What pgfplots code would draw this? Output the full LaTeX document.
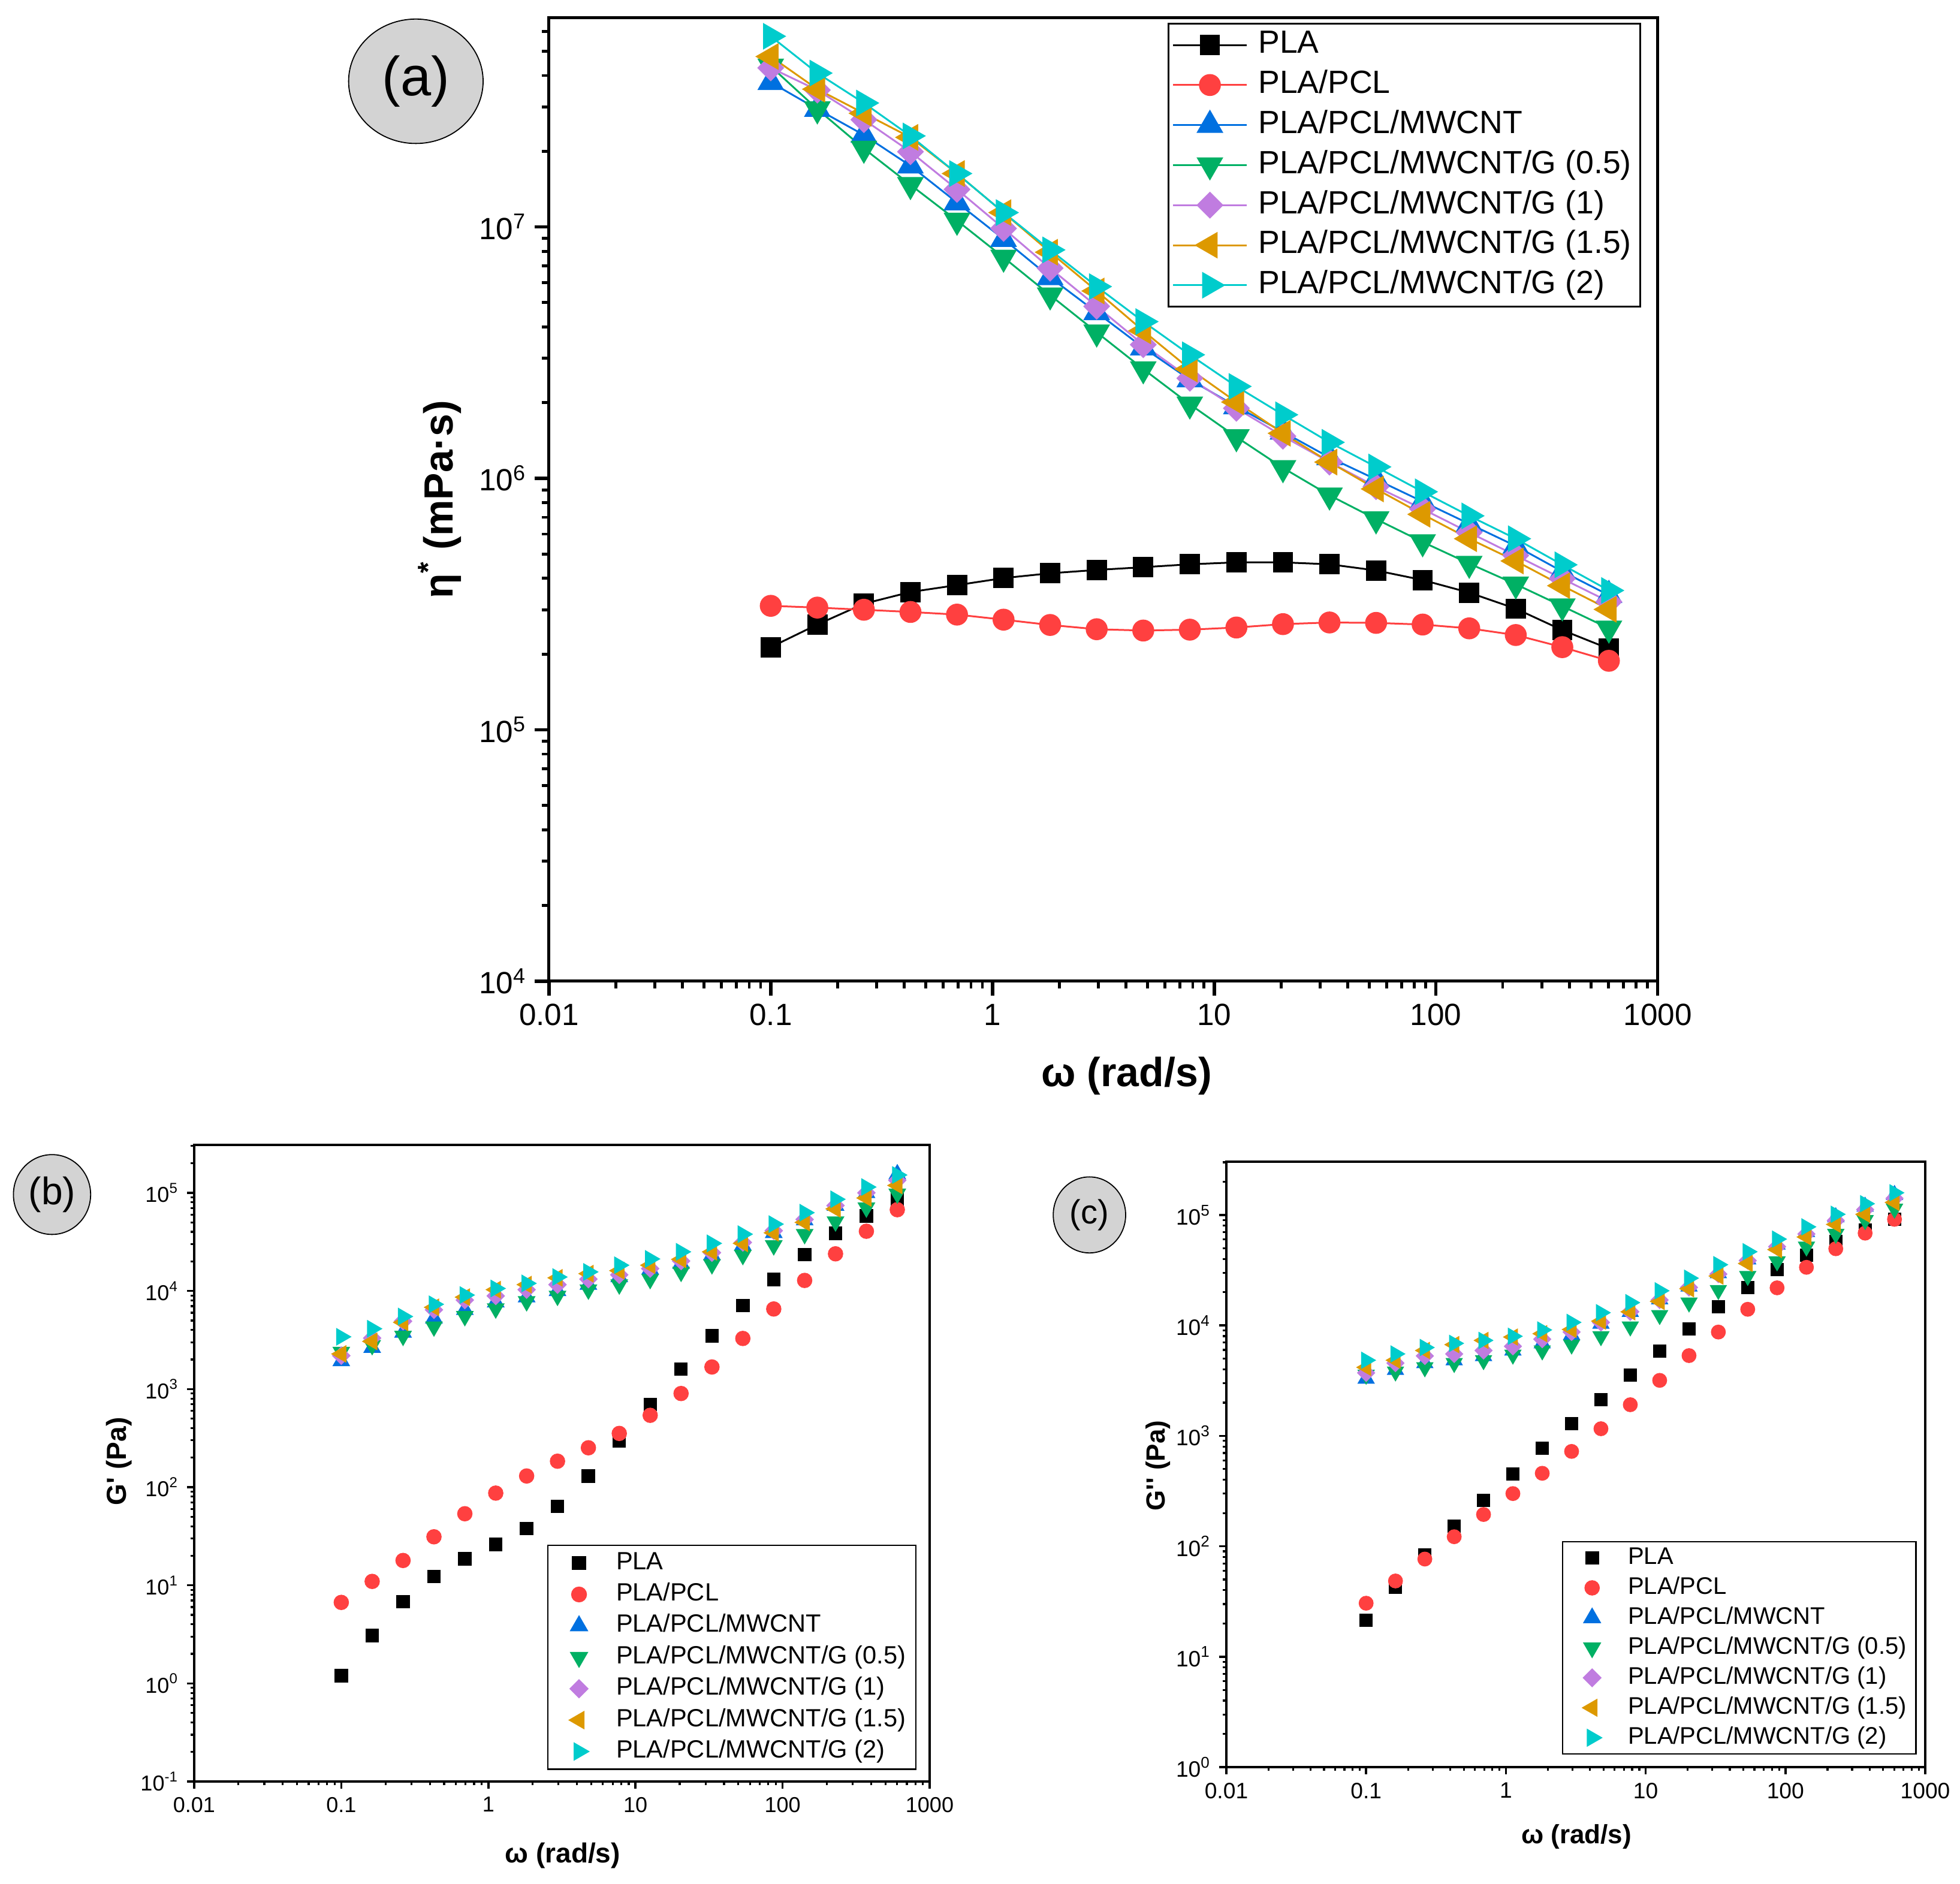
\documentclass[border=0pt]{standalone}
\usepackage{fontspec}
\setmainfont{Liberation Sans}
\usepackage{pgfplots}
\usepackage{pgfplotstable}
\pgfplotsset{compat=1.18}

\definecolor{cRed}{HTML}{FF4040}
\definecolor{cBlue}{HTML}{0070E0}
\definecolor{cGreen}{HTML}{00B064}
\definecolor{cPurple}{HTML}{C07CE0}
\definecolor{cOrange}{HTML}{DD9900}
\definecolor{cCyan}{HTML}{00CCCC}
\definecolor{cGray}{HTML}{D3D3D3}

% panel (a): complex viscosity (mPa s)
\pgfplotstableread{
w PLA PCL MW G05 G1 G15 G2
0.1 2.13e5 3.11e5 3.76e7 4.35e7 4.29e7 4.76e7 5.73e7
0.1622 2.62e5 3.06e5 2.94e7 2.94e7 3.50e7 3.53e7 4.09e7
0.2630 3.17e5 3.00e5 2.32e7 2.05e7 2.67e7 2.83e7 3.11e7
0.4266 3.53e5 2.94e5 1.75e7 1.47e7 1.99e7 2.27e7 2.30e7
0.6918 3.76e5 2.87e5 1.25e7 1.06e7 1.41e7 1.63e7 1.63e7
1.122 4.01e5 2.74e5 8.94e6 7.56e6 9.86e6 1.14e7 1.14e7
1.820 4.19e5 2.61e5 6.30e6 5.35e6 6.85e6 7.93e6 8.10e6
2.951 4.32e5 2.51e5 4.57e6 3.81e6 4.83e6 5.56e6 5.79e6
4.786 4.43e5 2.48e5 3.31e6 2.72e6 3.40e6 3.86e6 4.20e6
7.762 4.55e5 2.50e5 2.47e6 1.97e6 2.50e6 2.72e6 3.10e6
12.59 4.63e5 2.55e5 1.93e6 1.46e6 1.90e6 2.01e6 2.32e6
20.42 4.63e5 2.63e5 1.53e6 1.10e6 1.47e6 1.51e6 1.79e6
33.11 4.55e5 2.67e5 1.21e6 8.56e5 1.16e6 1.16e6 1.39e6
53.70 4.30e5 2.66e5 9.90e5 6.88e5 9.26e5 9.07e5 1.11e6
87.10 3.94e5 2.62e5 8.08e5 5.58e5 7.55e5 7.19e5 8.84e5
141.3 3.51e5 2.53e5 6.59e5 4.58e5 6.09e5 5.75e5 7.09e5
229.1 3.03e5 2.38e5 5.38e5 3.79e5 4.93e5 4.69e5 5.75e5
371.5 2.49e5 2.13e5 4.26e5 3.10e5 3.99e5 3.74e5 4.53e5
602.6 2.10e5 1.88e5 3.43e5 2.53e5 3.23e5 3.01e5 3.58e5
}\dataA

% panel (b): G' (Pa)
\pgfplotstableread{
w PLA PCL MW G05 G1 G15 G2
0.1 1.20 6.69 1930 2390 2190 2280 3410
0.1622 3.07 10.95 2640 2800 3310 3060 4120
0.2630 6.82 17.9 3770 3480 4920 4780 5490
0.4266 12.3 31.2 5270 4330 6420 6810 7310
0.6918 18.6 53.6 6420 5530 8070 8640 9080
1.122 26.1 87 7680 6610 8900 10300 10600
1.820 37.9 130 8640 7830 10300 11600 11950
2.951 64.0 184 10000 8900 11600 13600 13870
4.786 130 252 11600 10300 13200 15000 15630
7.762 296 353 13870 11600 14600 16100 18300
12.59 698 540 16600 13200 16900 18300 21200
20.42 1597 901 19000 15630 20200 21000 25060
33.11 3480 1679 23200 18650 24550 25060 30550
53.70 7080 3280 29100 23200 31200 30550 37900
87.10 13060 6550 39100 29100 41100 39100 48000
141.3 23400 12800 52600 37900 53600 50000 62800
229.1 38700 23900 74200 50900 74200 68600 86000
371.5 58000 40600 100000 70600 100000 88600 114600
602.6 86000 67300 155000 97800 134000 119000 152000
}\dataB

% panel (c): G'' (Pa)
\pgfplotstableread{
w PLA PCL MW G05 G1 G15 G2
0.1 21.3 30.5 3300 3570 3720 4170 4840
0.1622 42.5 48.5 3960 3820 4560 4840 5520
0.2630 83.5 76.6 4560 4170 5290 5930 6310
0.4266 152 122 4840 4560 5520 6700 6880
0.6918 261 194 5290 4840 5930 7320 7320
1.122 450 300 5930 5430 6470 7850 7980
1.820 768 458 6880 5930 7510 8420 9100
2.951 1288 723 8200 6700 8710 9190 10660
4.786 2140 1160 10380 7980 10660 10940 13050
7.762 3530 1914 13280 9770 13280 13280 16100
12.59 5820 3180 17270 12400 17000 16500 20600
20.42 9350 5330 22500 16100 22100 21500 26800
33.11 14750 8710 29700 20900 29200 28000 35500
53.70 22100 14000 39700 28000 38700 36400 46500
87.10 31900 21900 54000 38000 51700 48600 60500
141.3 43400 33600 70300 51700 67300 63200 78100
229.1 57900 49500 95500 67300 89100 82200 101500
371.5 73400 68500 119000 89800 112000 101500 126500
602.6 91400 91400 152000 113800 141700 130000 159000
}\dataC

\begin{document}
\begin{tikzpicture}
\useasboundingbox (0pt,0pt) rectangle (817.5pt,785.5pt);
\fill[white] (0pt,0pt) rectangle (817.5pt,785.5pt);

% ---------------- (a) ----------------
\begin{axis}[
  scale only axis, anchor=south west,
  xmode=log, ymode=log, xmin=0.01, xmax=1000,
  tick align=outside, xtick pos=bottom, ytick pos=left,
  xtick={0.01,0.1,1,10,100,1000},
  xticklabels={0.01,0.1,1,10,100,1000},
  minor xtick={0.02,0.03,0.04,0.05,0.06,0.07,0.08,0.09,0.2,0.3,0.4,0.5,0.6,0.7,0.8,0.9,2,3,4,5,6,7,8,9,20,30,40,50,60,70,80,90,200,300,400,500,600,700,800,900},
  legend cell align=left,
  at={(229pt,376.3pt)}, width=462.4pt, height=401.85pt,
  ymin=1e4, ymax=6.8e7,
  ytick={1e4,1e5,1e6,1e7},
  yticklabels={10\textsuperscript{4},10\textsuperscript{5},10\textsuperscript{6},10\textsuperscript{7}},
  minor ytick={2e4,3e4,4e4,5e4,6e4,7e4,8e4,9e4,2e5,3e5,4e5,5e5,6e5,7e5,8e5,9e5,2e6,3e6,4e6,5e6,6e6,7e6,8e6,9e6,2e7,3e7,4e7,5e7,6e7},
  axis line style={line width=1.25pt},
  major tick length=6pt, minor tick length=3pt,
  major tick style={black, line width=1.4pt}, minor tick style={black, line width=1.2pt},
  ticklabel style={font=\fontsize{12.8}{15}\selectfont},
  xlabel={\textbf{ω (rad/s)}},
  ylabel={\textbf{η\textsuperscript{*} (mPa·s)}},
  xlabel style={at={(axis description cs:0.521,-0.0985)}, anchor=center, font=\fontsize{17}{20}\selectfont},
  ylabel style={at={(axis description cs:-0.0984,0.50)}, anchor=center, font=\fontsize{17}{20}\selectfont},
  legend style={at={(0.5581,0.9946)}, anchor=north west, draw=black, line width=0.8pt,
    font=\fontsize{13.4}{15}\selectfont, inner xsep=1.4pt, inner ysep=0.5pt,
    row sep=0pt, column sep=2.2pt,
    nodes={inner xsep=2.2pt, inner ysep=1.9pt, text height=9.9pt, text depth=3pt}},
  legend image code/.code={\draw[mark repeat=2, mark phase=2, #1] plot coordinates {(0pt,0pt) (15.4pt,0pt) (30.8pt,0pt)};},
]
\addplot[black, line width=0.75pt, mark=square*, mark size=3.85pt] table[x=w,y=PLA]{\dataA};
\addlegendentry{PLA}
\addplot[cRed, line width=0.75pt, mark=*, mark size=4.2pt] table[x=w,y=PCL]{\dataA};
\addlegendentry{PLA/PCL}
\addplot[cBlue, line width=0.75pt, mark=triangle*, mark size=5.7pt] table[x=w,y=MW]{\dataA};
\addlegendentry{PLA/PCL/MWCNT}
\addplot[cGreen, line width=0.75pt, mark=triangle*, mark size=5.7pt, mark options={rotate=180}] table[x=w,y=G05]{\dataA};
\addlegendentry{PLA/PCL/MWCNT/G (0.5)}
\addplot[cPurple, line width=0.75pt, mark=square*, mark size=3.6pt, mark options={rotate=45}] table[x=w,y=G1]{\dataA};
\addlegendentry{PLA/PCL/MWCNT/G (1)}
\addplot[cOrange, line width=0.75pt, mark=triangle*, mark size=5.7pt, mark options={rotate=90}] table[x=w,y=G15]{\dataA};
\addlegendentry{PLA/PCL/MWCNT/G (1.5)}
\addplot[cCyan, line width=0.75pt, mark=triangle*, mark size=5.7pt, mark options={rotate=-90}] table[x=w,y=G2]{\dataA};
\addlegendentry{PLA/PCL/MWCNT/G (2)}
\end{axis}

% ---------------- (b) ----------------
\begin{axis}[
  scale only axis, anchor=south west,
  xmode=log, ymode=log, xmin=0.01, xmax=1000,
  tick align=outside, xtick pos=bottom, ytick pos=left,
  xtick={0.01,0.1,1,10,100,1000},
  xticklabels={0.01,0.1,1,10,100,1000},
  minor xtick={0.02,0.03,0.04,0.05,0.06,0.07,0.08,0.09,0.2,0.3,0.4,0.5,0.6,0.7,0.8,0.9,2,3,4,5,6,7,8,9,20,30,40,50,60,70,80,90,200,300,400,500,600,700,800,900},
  legend cell align=left,
  at={(81pt,42.5pt)}, width=306.75pt, height=265.5pt,
  ymin=0.1, ymax=3.08e5,
  ytick={0.1,1,10,100,1000,1e4,1e5},
  yticklabels={10\textsuperscript{-1},10\textsuperscript{0},10\textsuperscript{1},10\textsuperscript{2},10\textsuperscript{3},10\textsuperscript{4},10\textsuperscript{5}},
  minor ytick={0.2,0.3,0.4,0.5,0.6,0.7,0.8,0.9,2,3,4,5,6,7,8,9,20,30,40,50,60,70,80,90,200,300,400,500,600,700,800,900,2e3,3e3,4e3,5e3,6e3,7e3,8e3,9e3,2e4,3e4,4e4,5e4,6e4,7e4,8e4,9e4,2e5,3e5},
  axis line style={line width=1pt},
  major tick length=3pt, minor tick length=1.6pt,
  major tick style={black, line width=0.9pt}, minor tick style={black, line width=0.8pt},
  ticklabel style={font=\fontsize{9}{11}\selectfont},
  xlabel={\textbf{ω (rad/s)}},
  ylabel={\textbf{G\textquotesingle{} (Pa)}},
  xlabel style={at={(axis description cs:0.501,-0.1165)}, anchor=center, font=\fontsize{11.5}{14}\selectfont},
  ylabel style={at={(axis description cs:-0.1019,0.503)}, anchor=center, font=\fontsize{11.5}{14}\selectfont},
  legend style={at={(0.4799,0.0183)}, anchor=south west, draw=black, line width=0.6pt,
    font=\fontsize{10.4}{12}\selectfont, inner xsep=2pt, inner ysep=0.8pt,
    row sep=0pt, column sep=2.3pt,
    nodes={inner xsep=2.2pt, inner ysep=1.6pt, text height=7.6pt, text depth=2.3pt}},
  legend image code/.code={\path[draw=none,fill=none] (0pt,0pt) -- (22pt,0pt); \draw[#1, only marks] plot coordinates {(11pt,0pt)};},
]
\addplot[black, only marks, mark=square*, mark size=2.6pt] table[x=w,y=PLA]{\dataB};
\addlegendentry{PLA}
\addplot[cRed, only marks, mark=*, mark size=3pt] table[x=w,y=PCL]{\dataB};
\addlegendentry{PLA/PCL}
\addplot[cBlue, only marks, mark=triangle*, mark size=3.9pt] table[x=w,y=MW]{\dataB};
\addlegendentry{PLA/PCL/MWCNT}
\addplot[cGreen, only marks, mark=triangle*, mark size=3.9pt, mark options={rotate=180}] table[x=w,y=G05]{\dataB};
\addlegendentry{PLA/PCL/MWCNT/G (0.5)}
\addplot[cPurple, only marks, mark=square*, mark size=2.55pt, mark options={rotate=45}] table[x=w,y=G1]{\dataB};
\addlegendentry{PLA/PCL/MWCNT/G (1)}
\addplot[cOrange, only marks, mark=triangle*, mark size=3.9pt, mark options={rotate=90}] table[x=w,y=G15]{\dataB};
\addlegendentry{PLA/PCL/MWCNT/G (1.5)}
\addplot[cCyan, only marks, mark=triangle*, mark size=3.9pt, mark options={rotate=-90}] table[x=w,y=G2]{\dataB};
\addlegendentry{PLA/PCL/MWCNT/G (2)}
\end{axis}

% ---------------- (c) ----------------
\begin{axis}[
  scale only axis, anchor=south west,
  xmode=log, ymode=log, xmin=0.01, xmax=1000,
  tick align=outside, xtick pos=bottom, ytick pos=left,
  xtick={0.01,0.1,1,10,100,1000},
  xticklabels={0.01,0.1,1,10,100,1000},
  minor xtick={0.02,0.03,0.04,0.05,0.06,0.07,0.08,0.09,0.2,0.3,0.4,0.5,0.6,0.7,0.8,0.9,2,3,4,5,6,7,8,9,20,30,40,50,60,70,80,90,200,300,400,500,600,700,800,900},
  legend cell align=left,
  at={(511.5pt,48.5pt)}, width=291.5pt, height=252.5pt,
  ymin=1, ymax=3.04e5,
  ytick={1,10,100,1000,1e4,1e5},
  yticklabels={10\textsuperscript{0},10\textsuperscript{1},10\textsuperscript{2},10\textsuperscript{3},10\textsuperscript{4},10\textsuperscript{5}},
  minor ytick={2,3,4,5,6,7,8,9,20,30,40,50,60,70,80,90,200,300,400,500,600,700,800,900,2e3,3e3,4e3,5e3,6e3,7e3,8e3,9e3,2e4,3e4,4e4,5e4,6e4,7e4,8e4,9e4,2e5,3e5},
  axis line style={line width=1pt},
  major tick length=3pt, minor tick length=1.6pt,
  major tick style={black, line width=0.9pt}, minor tick style={black, line width=0.8pt},
  ticklabel style={font=\fontsize{9.3}{11}\selectfont},
  xlabel={\textbf{ω (rad/s)}},
  ylabel={\textbf{G\textquotesingle\textquotesingle{} (Pa)}},
  xlabel style={at={(axis description cs:0.501,-0.1149)}, anchor=center, font=\fontsize{11}{13}\selectfont},
  ylabel style={at={(axis description cs:-0.0978,0.498)}, anchor=center, font=\fontsize{11}{13}\selectfont},
  legend style={at={(0.4803,0.0206)}, anchor=south west, draw=black, line width=0.6pt,
    font=\fontsize{10}{12}\selectfont, inner xsep=1.75pt, inner ysep=0.5pt,
    row sep=0pt, column sep=2.3pt,
    nodes={inner xsep=2.2pt, inner ysep=1.5pt, text height=7.3pt, text depth=2.2pt}},
  legend image code/.code={\path[draw=none,fill=none] (0pt,0pt) -- (21pt,0pt); \draw[#1, only marks] plot coordinates {(10.5pt,0pt)};},
]
\addplot[black, only marks, mark=square*, mark size=2.55pt] table[x=w,y=PLA]{\dataC};
\addlegendentry{PLA}
\addplot[cRed, only marks, mark=*, mark size=2.9pt] table[x=w,y=PCL]{\dataC};
\addlegendentry{PLA/PCL}
\addplot[cBlue, only marks, mark=triangle*, mark size=3.8pt] table[x=w,y=MW]{\dataC};
\addlegendentry{PLA/PCL/MWCNT}
\addplot[cGreen, only marks, mark=triangle*, mark size=3.8pt, mark options={rotate=180}] table[x=w,y=G05]{\dataC};
\addlegendentry{PLA/PCL/MWCNT/G (0.5)}
\addplot[cPurple, only marks, mark=square*, mark size=2.5pt, mark options={rotate=45}] table[x=w,y=G1]{\dataC};
\addlegendentry{PLA/PCL/MWCNT/G (1)}
\addplot[cOrange, only marks, mark=triangle*, mark size=3.8pt, mark options={rotate=90}] table[x=w,y=G15]{\dataC};
\addlegendentry{PLA/PCL/MWCNT/G (1.5)}
\addplot[cCyan, only marks, mark=triangle*, mark size=3.8pt, mark options={rotate=-90}] table[x=w,y=G2]{\dataC};
\addlegendentry{PLA/PCL/MWCNT/G (2)}
\end{axis}

% panel tags
\draw[line width=0.45pt, fill=cGray] (173.45pt,751.6pt) ellipse [x radius=28.05pt, y radius=25.95pt];
\node[font=\fontsize{23}{27}\selectfont, inner sep=0pt] at (173.45pt,751.6pt) {(a)};
\draw[line width=0.45pt, fill=cGray] (21.7pt,287.3pt) ellipse [x radius=16.1pt, y radius=16.65pt];
\node[font=\fontsize{16}{19}\selectfont, inner sep=0pt] at (21.7pt,287.3pt) {(b)};
\draw[line width=0.45pt, fill=cGray] (454.4pt,278.8pt) ellipse [x radius=15.1pt, y radius=15.85pt];
\node[font=\fontsize{14}{17}\selectfont, inner sep=0pt] at (454.4pt,278.8pt) {(c)};
\end{tikzpicture}
\end{document}
